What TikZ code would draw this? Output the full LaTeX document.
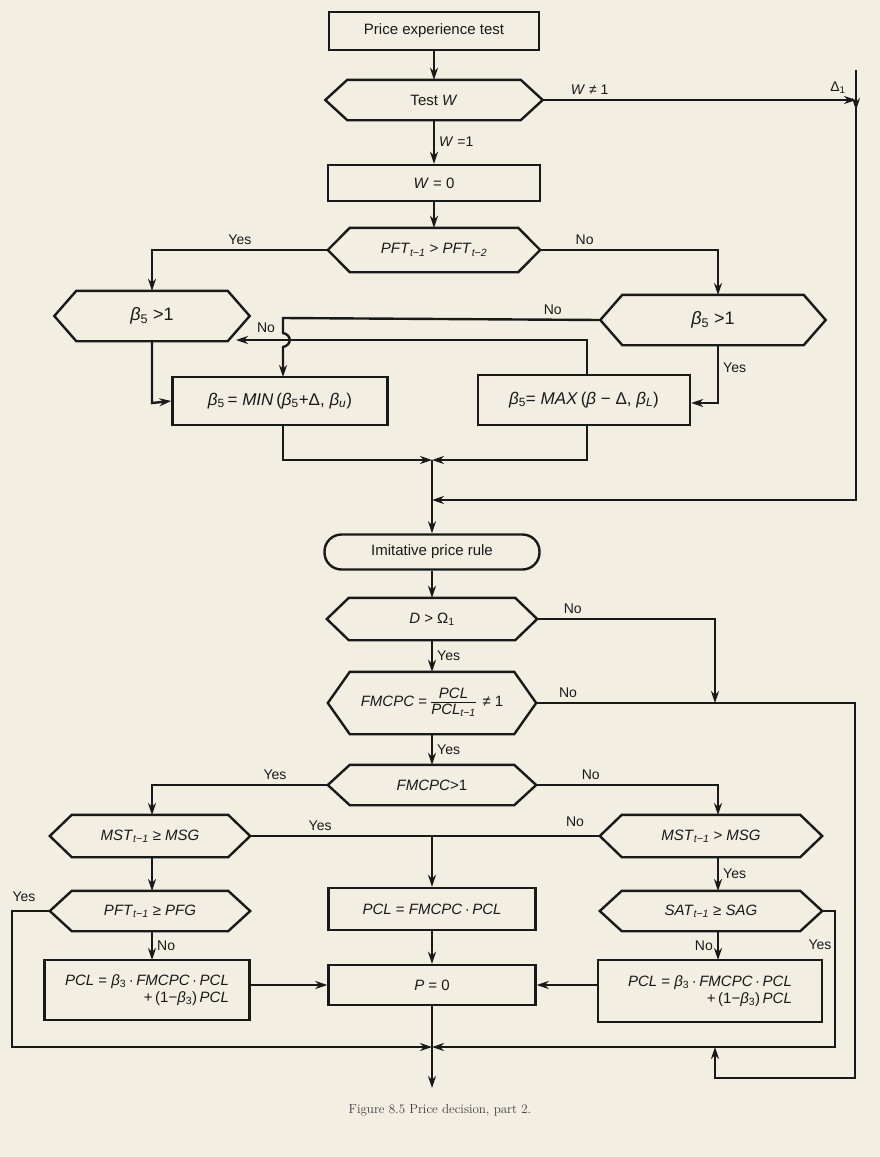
\documentclass[tikz,border=0pt]{standalone}
\usepackage{fontspec}
\setsansfont{Liberation Sans}
\usetikzlibrary{arrows.meta,calc}
\newcommand{\lo}[1]{\textsubscript{\itshape #1}}
\newcommand{\hexn}[6]{%
  \node[txt,minimum width=#4,minimum height=#5] (#1) at (#2,#3) {#6};
  \draw[ln] (#1.west) -- ([xshift=22]#1.north west) -- ([xshift=-22]#1.north east) -- (#1.east) -- ([xshift=-22]#1.south east) -- ([xshift=22]#1.south west) -- cycle;}
\definecolor{paper}{RGB}{243,238,226}
\definecolor{ink}{RGB}{25,25,25}
\begin{document}
\begin{tikzpicture}[x=1pt,y=-1pt,
  ln/.style={draw=ink,line width=2.4pt},
  arr/.style={ln,-{Stealth[length=12,width=8]}},
  txt/.style={inner sep=0,font=\sffamily\fontsize{15}{17}\selectfont,text=ink},
  box/.style={txt,ln,rectangle},
  lab/.style={inner sep=1,font=\sffamily\fontsize{14}{16}\selectfont,text=ink}]
\fill[paper] (0,0) rectangle (880,1157);
\useasboundingbox (0,0) rectangle (880,1157);
% top part
\node[box,minimum width=210,minimum height=38] (start) at (434,31) {Price experience test};
\hexn{testw}{434}{100}{217}{40}{Test \textit{W}}
\node[box,minimum width=212,minimum height=36] (w0) at (434,183) {\textit{W} = 0};
\hexn{pft}{434}{250}{212}{44}{\textit{PFT}\lo{t−1} > \textit{PFT}\lo{t−2}}
\hexn{lb}{152}{316}{195}{50}{\fontsize{18}{18}\selectfont\textit{β}\textsubscript{5} >1}
\hexn{rb}{713}{320}{225}{50}{\fontsize{18}{18}\selectfont\textit{β}\textsubscript{5} >1}
\node[box,minimum width=215,minimum height=48] (min) at (280,401) {\fontsize{17}{18}\selectfont\textit{β}\textsubscript{5}\,= \textit{MIN}\,(\textit{β}\textsubscript{5}+Δ, \textit{β\lo{u}})};
\node[box,minimum width=212,minimum height=50] (max) at (584,400) {\fontsize{17}{18}\selectfont\textit{β}\textsubscript{5}= \textit{MAX}\,(\textit{β} − Δ, \textit{β\lo{L}})};
\coordinate (tr) at (856,70);
\coordinate (m1) at (432,460);
\coordinate (m2) at (432,500);
\draw[arr] (start) -- (testw);
\draw[arr] (testw) -- node[lab,right=3]{\textit{W} =1} (w0);
\draw[arr] (testw.east) -- node[lab,pos=0.15,above=3]{\textit{W} ≠ 1} (856,100);
\node[lab] (d1) at (838,88) {Δ\textsubscript{1}};
\draw[arr] (tr) -- ++(0,40);
\draw[arr] (tr) -- (856,500) -- (m2);
\draw[arr] (w0) -- (pft);
\draw[arr] (pft.west) -- node[lab,pos=0.5,above=3]{Yes} (152,250) -- (lb.north);
\draw[arr] (pft.east) -- node[lab,pos=0.25,above=3]{No} (718,250) -- (718,295);
\draw[arr] (lb.south) -- (152,403) -- (min.west);
\draw[arr] (718,345) -- node[lab,right=3,pos=0.4]{Yes} (718,403) -- (max.east |- 0,403);
\draw[arr] (rb.west) -- node[lab,pos=0.15,above=3]{No} (283,318) -- (283,333) .. controls (292,335) and (292,345) .. (283,347) -- (283,377);
\draw[arr] (587,375) -- (587,340) -- (236,340);
\node[lab] (nol) at (266,328) {No};
\draw[arr] (283,425) -- (283,460) -- (m1);
\draw[arr] (587,425) -- (587,460) -- (m1);
% middle
\node[box,rounded corners=17,minimum width=215,minimum height=35] (imit) at (432,552) {Imitative price rule};
\hexn{dom}{432}{619}{210}{42}{\textit{D} > Ω\textsubscript{1}}
\hexn{fm}{432}{703}{208}{62}{\textit{FMCPC} = \begin{tabular}{@{}c@{}}\textit{PCL}\\[-2pt]\hline\textit{PCL}\lo{t−1}\end{tabular}\, ≠ 1}
\hexn{fmo}{432}{785}{208}{40}{\textit{FMCPC}>1}
\draw[arr] (m1) -- (imit);
\draw[arr] (imit) -- (dom);
\draw[arr] (dom) -- node[lab,right=3]{Yes} (fm);
\draw[arr] (fm) -- node[lab,right=3]{Yes} (fmo);
\draw[arr] (dom.east) -- node[lab,pos=0.2,above=3]{No} (715,619) -- (715,703);
\coordinate (m3) at (432,1047);
\draw[arr] (fm.east) -- node[lab,pos=0.1,above=3]{No} (855,703) -- (855,1078) -- (715,1078) -- (715,1047);
% bottom
\hexn{mstl}{150}{836}{200}{42}{\textit{MST}\lo{t−1} ≥ \textit{MSG}}
\hexn{mstr}{711}{836}{222}{42}{\textit{MST}\lo{t−1} > \textit{MSG}}
\node[box,minimum width=207,minimum height=42] (pclc) at (432,909) {\textit{PCL} = \textit{FMCPC}\,·\,\textit{PCL}};
\hexn{pftl}{150}{911}{200}{40}{\textit{PFT}\lo{t−1} ≥ \textit{PFG}}
\hexn{sat}{711}{911}{222}{40}{\textit{SAT}\lo{t−1} ≥ \textit{SAG}}
\node[box,minimum width=205,minimum height=60,align=right] (pcll) at (147,990) {\textit{PCL} = \textit{β}\textsubscript{3}\,·\,\textit{FMCPC}\,·\,\textit{PCL}\\+\,(1−\textit{β}\textsubscript{3})\,\textit{PCL}};
\node[box,minimum width=207,minimum height=40] (p0) at (432,985) {\textit{P} = 0};
\node[box,minimum width=224,minimum height=62,align=right] (pclr) at (710,991) {\textit{PCL} = \textit{β}\textsubscript{3}\,·\,\textit{FMCPC}\,·\,\textit{PCL}\\+\,(1−\textit{β}\textsubscript{3})\,\textit{PCL}};
\coordinate (out) at (432,1088);
\draw[arr] (fmo.west) -- node[lab,pos=0.3,above=3]{Yes} (152,785) -- (152,815);
\draw[arr] (fmo.east) -- node[lab,pos=0.3,above=3]{No} (718,785) -- (718,815);
\draw[ln] (mstl.east) -- node[lab,pos=0.2,above=3]{Yes} (mstr.west);
\node[lab] (nom) at (575,822) {No};
\draw[arr] (pclc.north |- mstl.east) -- (pclc.north);
\draw[arr] (152,857) -- (152,891);
\draw[arr] (718,857) -- node[lab,right=3]{Yes} (718,891);
\draw[arr] (152,931) -- node[lab,right=3]{No} (152,960);
\draw[arr] (718,931) -- node[lab,left=3]{No} (718,960);
\draw[arr] (pclc) -- (p0);
\draw[arr] (pcll.east |- p0) -- (p0.west);
\draw[arr] (pclr.west |- p0) -- (p0.east);
\draw[arr] (pftl.west) -- (12,911) -- (12,1047) -- (m3);
\node[lab] (yl) at (24,897) {Yes};
\draw[arr] (sat.east) -- (835,911) -- (835,1047) -- (m3);
\node[lab] (yr) at (820,945) {Yes};
\draw[arr] (p0) -- (out);
\node[font=\rmfamily\fontsize{13}{15}\selectfont,text=ink!85] (cap) at (440,1110) {Figure 8.5 Price decision, part 2.};
\end{tikzpicture}
\end{document}
